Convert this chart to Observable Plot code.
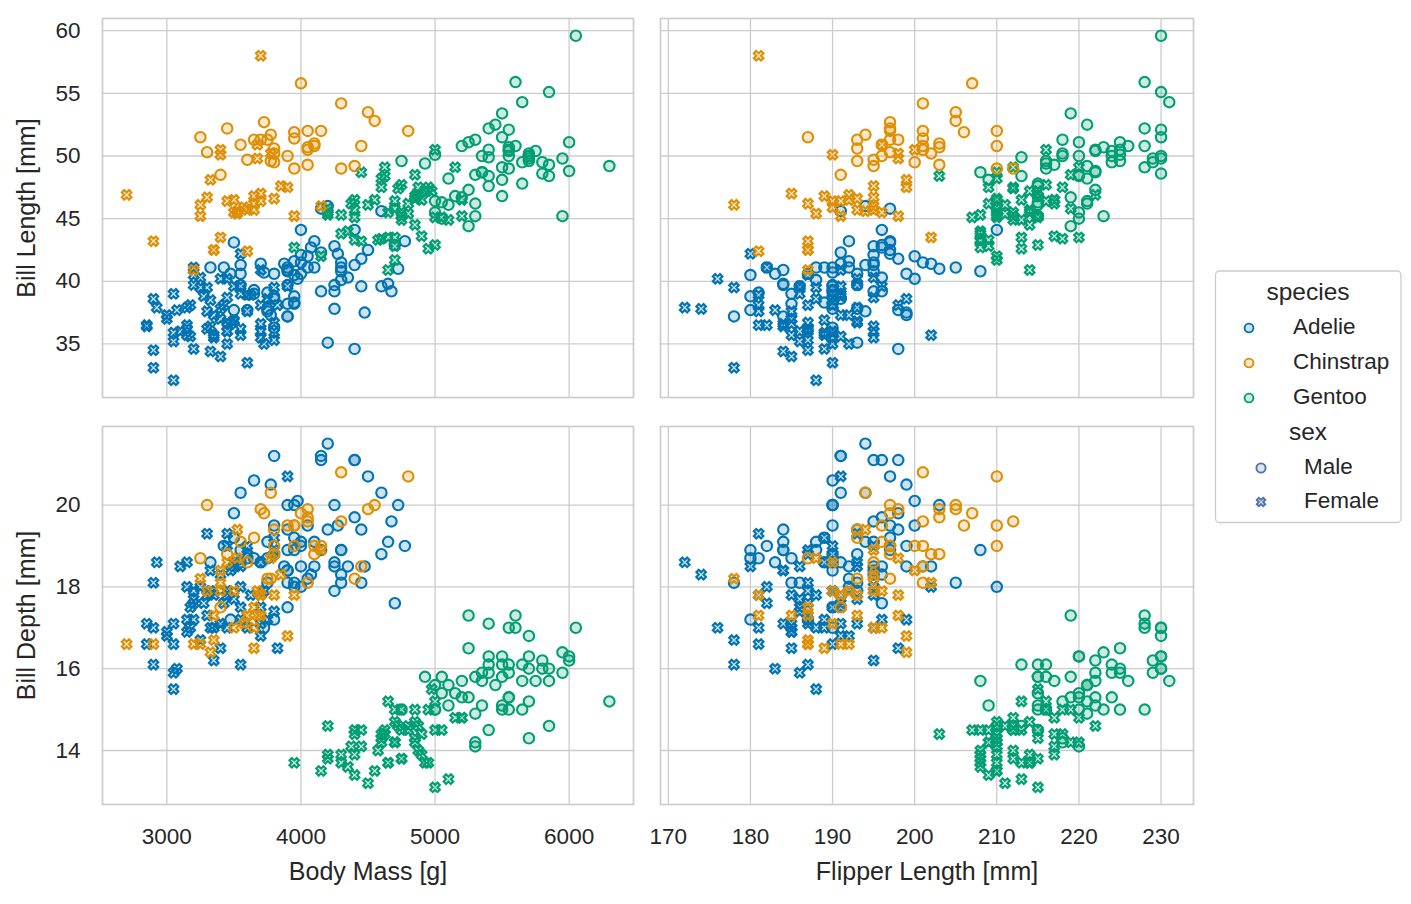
<!DOCTYPE html>
<html><head><meta charset="utf-8">
<script src="https://cdn.jsdelivr.net/npm/d3@7"></script>
<script src="https://cdn.jsdelivr.net/npm/@observablehq/plot@0.6"></script>
<style>
html,body{margin:0;padding:0;background:#fff;}
#root{position:relative;width:1411px;height:904px;font-family:"Liberation Sans",Arial,sans-serif;color:#262626;}
#root svg{position:absolute;overflow:visible;}
</style></head><body><div id="root"></div>
<script>
const speciesNames = ["Adelie", "Chinstrap", "Gentoo"];
const speciesColors = ["#0173b2", "#de8f05", "#029e73"];
const sexNames = ["Male", "Female"];
const sexLegendColor = "#4c72b0";
const massTicks = [3000, 4000, 5000, 6000];
const flipperTicks = [170, 180, 190, 200, 210, 220, 230];
const billLengthTicks = [35, 40, 45, 50, 55, 60];
const billDepthTicks = [14, 16, 18, 20];
const axisLabels = {mass: "Body Mass [g]", flipper: "Flipper Length [mm]", billLength: "Bill Length [mm]", billDepth: "Bill Depth [mm]"};

// rows: [bill length mm, bill depth mm, flipper length mm, body mass g, sex]
const adelieRows = [
[39.1,18.7,181,3750,"M"],[39.5,17.4,186,3800,"F"],[40.3,18.0,195,3250,"F"],[36.7,19.3,193,3450,"F"],[39.3,20.6,190,3650,"M"],
[38.9,17.8,181,3625,"F"],[39.2,19.6,195,4675,"M"],[41.1,17.6,182,3200,"F"],[38.6,21.2,191,3800,"M"],[34.6,21.1,198,4400,"M"],
[36.6,17.8,185,3700,"F"],[38.7,19.0,195,3450,"F"],[42.5,20.7,197,4500,"M"],[34.4,18.4,184,3325,"F"],[46.0,21.5,194,4200,"M"],
[37.8,18.3,174,3400,"F"],[37.7,18.7,180,3600,"M"],[35.9,19.2,189,3800,"F"],[38.2,18.1,185,3950,"M"],[38.8,17.2,180,3800,"M"],
[35.3,18.9,187,3800,"F"],[40.6,18.6,183,3550,"M"],[40.5,17.9,187,3200,"F"],[37.9,18.6,172,3150,"F"],[40.5,18.9,180,3950,"M"],
[39.5,16.7,178,3250,"F"],[37.2,18.1,178,3900,"M"],[39.5,17.8,188,3300,"F"],[40.9,18.9,184,3900,"M"],[36.4,17.0,195,3325,"F"],
[39.2,21.1,196,4150,"M"],[38.8,20.0,190,3950,"M"],[42.2,18.5,180,3550,"F"],[37.6,19.3,181,3300,"F"],[39.8,19.1,184,4650,"M"],
[36.5,18.0,182,3150,"F"],[40.8,18.4,195,3900,"M"],[36.0,18.5,186,3100,"F"],[44.1,19.7,196,4400,"M"],[37.0,16.9,185,3000,"F"],
[39.6,18.8,190,4600,"M"],[41.1,19.0,182,3425,"M"],[36.0,17.9,190,3450,"F"],[42.3,21.2,191,4150,"M"],[39.6,17.7,186,3500,"F"],
[40.1,18.9,188,4300,"M"],[35.0,17.9,190,3450,"F"],[42.0,19.5,200,4050,"M"],[34.5,18.1,187,2900,"F"],[41.4,18.6,191,3700,"M"],
[39.0,17.5,186,3550,"F"],[40.6,18.8,193,3800,"M"],[36.5,16.6,181,2850,"F"],[37.6,19.1,194,3750,"M"],[35.7,16.9,185,3150,"F"],
[41.3,21.1,195,4400,"M"],[37.6,17.0,185,3600,"F"],[41.1,18.2,192,4050,"M"],[36.4,17.1,184,2850,"F"],[41.6,18.0,192,3950,"M"],
[35.5,16.2,195,3350,"F"],[41.1,19.1,188,4100,"M"],[35.9,16.6,190,3050,"F"],[41.8,19.4,198,4450,"M"],[33.5,19.0,190,3600,"F"],
[39.7,18.4,190,3900,"M"],[39.6,17.2,196,3550,"F"],[45.8,18.9,197,4150,"M"],[35.5,17.5,190,3700,"F"],[42.8,18.5,195,4250,"M"],
[40.9,16.8,191,3700,"F"],[37.2,19.4,184,3900,"M"],[36.2,16.1,187,3550,"F"],[42.1,19.1,195,4000,"M"],[34.6,17.2,189,3200,"F"],
[42.9,17.6,196,4700,"M"],[36.7,18.8,187,3800,"F"],[35.1,19.4,193,4200,"M"],[37.3,17.8,191,3350,"F"],[41.3,20.3,194,3550,"M"],
[36.3,19.5,190,3800,"M"],[36.9,18.6,189,3500,"F"],[38.3,19.2,189,3950,"M"],[38.9,18.8,190,3600,"F"],[35.7,18.0,202,3550,"F"],
[41.1,18.1,205,4300,"M"],[34.0,17.1,185,3400,"F"],[39.6,18.1,186,4450,"M"],[36.2,17.3,187,3300,"F"],[40.8,18.9,208,4300,"M"],
[38.1,18.6,190,3700,"F"],[40.3,18.5,196,4350,"M"],[33.1,16.1,178,2900,"F"],[43.2,18.5,192,4100,"M"],[35.0,17.9,192,3725,"F"],
[41.0,20.0,203,4725,"M"],[37.7,16.0,183,3075,"F"],[37.8,20.0,190,4250,"M"],[37.9,18.6,193,2925,"F"],[39.7,18.9,184,3550,"M"],
[38.6,17.2,199,3750,"F"],[38.2,20.0,190,3900,"M"],[38.1,17.0,181,3175,"F"],[43.2,19.0,197,4775,"M"],[38.1,16.5,198,3825,"F"],
[45.6,20.3,191,4600,"M"],[39.7,17.7,193,3200,"F"],[42.2,19.5,197,4275,"M"],[39.6,20.7,191,3900,"F"],[42.7,18.3,196,4075,"M"],
[38.6,17.0,188,2900,"F"],[37.3,20.5,199,3775,"M"],[35.7,17.0,189,3350,"F"],[41.1,18.6,189,3325,"M"],[36.2,17.2,187,3150,"F"],
[37.7,19.8,198,3500,"M"],[40.2,17.0,176,3450,"F"],[41.4,18.5,202,3875,"M"],[35.2,15.9,186,3050,"F"],[40.6,19.0,199,4000,"M"],
[38.8,17.6,191,3275,"F"],[41.5,18.3,195,4300,"M"],[39.0,17.1,191,3050,"F"],[44.1,18.0,210,4000,"M"],[38.5,17.9,190,3325,"F"],
[43.1,19.2,197,3500,"M"],[36.8,18.5,193,3500,"F"],[37.5,18.5,199,4475,"M"],[38.1,17.6,187,3425,"F"],[41.1,17.5,190,3900,"M"],
[35.6,17.5,191,3175,"F"],[40.2,20.1,200,3975,"M"],[37.0,16.5,185,3400,"F"],[39.7,17.9,193,4250,"M"],[40.2,17.1,193,3400,"F"],
[40.6,17.2,187,3475,"M"],[32.1,15.5,188,3050,"F"],[40.7,17.0,190,3725,"M"],[37.3,16.8,192,3000,"F"],[39.0,18.7,185,3650,"M"],
[39.2,18.6,190,4250,"M"],[36.6,18.4,184,3475,"F"],[36.0,17.8,195,3450,"F"],[37.8,18.1,193,3750,"M"],[36.0,17.1,187,3700,"F"],
[41.5,18.5,201,4000,"M"]
];
const gentooRows = [
[46.1,13.2,211,4500,"F"],[50.0,16.3,230,5700,"M"],[48.7,14.1,210,4450,"F"],[50.0,15.2,218,5700,"M"],[47.6,14.5,215,5400,"M"],
[46.5,13.5,210,4550,"F"],[45.4,14.6,211,4800,"F"],[46.7,15.3,219,5200,"M"],[43.3,13.4,209,4400,"F"],[46.8,15.4,215,5150,"M"],
[40.9,13.7,214,4650,"F"],[49.0,16.1,216,5550,"M"],[45.5,13.7,214,4650,"F"],[48.4,14.6,213,5850,"M"],[45.8,14.6,210,4200,"F"],
[49.3,15.7,217,5850,"M"],[42.0,13.5,210,4150,"F"],[49.2,15.2,221,6300,"M"],[46.2,14.5,209,4800,"F"],[48.7,15.1,222,5350,"M"],
[50.2,14.3,218,5700,"M"],[45.1,14.5,215,5000,"F"],[46.5,14.5,213,4400,"F"],[46.3,15.8,215,5050,"M"],[42.9,13.1,215,5000,"F"],
[46.1,15.1,215,5100,"M"],[47.8,15.0,215,5650,"M"],[48.2,14.3,210,4600,"F"],[50.0,15.3,220,5550,"M"],[47.3,15.3,222,5250,"M"],
[42.8,14.2,209,4700,"F"],[45.1,14.5,207,5050,"F"],[59.6,17.0,230,6050,"M"],[49.1,14.8,220,5150,"F"],[48.4,16.3,220,5400,"M"],
[42.6,13.7,213,4950,"F"],[44.4,17.3,219,5250,"M"],[44.0,13.6,208,4350,"F"],[48.7,15.7,208,5350,"M"],[42.7,13.7,208,3950,"F"],
[49.6,16.0,225,5700,"M"],[45.3,13.7,210,4300,"F"],[49.6,15.0,216,4750,"M"],[50.5,15.9,222,5550,"M"],[43.6,13.9,217,4900,"F"],
[45.5,13.9,210,4200,"F"],[50.5,15.9,225,5400,"M"],[44.9,13.3,213,5100,"F"],[45.2,15.8,215,5300,"M"],[46.6,14.2,210,4850,"F"],
[48.5,14.1,220,5300,"M"],[45.1,14.4,210,4400,"F"],[50.1,15.0,225,5000,"M"],[46.5,14.4,217,4900,"F"],[45.0,15.4,220,5050,"M"],
[43.8,13.9,208,4300,"F"],[45.5,15.0,220,5000,"M"],[43.2,14.5,208,4450,"F"],[50.4,15.3,224,5550,"M"],[45.3,13.8,208,4200,"F"],
[46.2,14.9,221,5300,"M"],[45.7,13.9,214,4400,"F"],[54.3,15.7,231,5650,"M"],[45.8,14.2,219,4700,"F"],[49.8,16.8,230,5700,"M"],
[49.5,16.2,229,5800,"M"],[43.5,14.2,220,4700,"F"],[50.7,15.0,223,5550,"M"],[47.7,15.0,216,4750,"F"],[46.4,15.6,221,5000,"M"],
[48.2,15.6,221,5100,"M"],[46.5,14.8,217,5200,"F"],[46.4,15.0,216,4700,"F"],[48.6,16.0,230,5800,"M"],[47.5,14.2,209,4600,"F"],
[51.1,16.3,220,6000,"M"],[45.2,13.8,215,4750,"F"],[45.2,16.4,223,5950,"M"],[49.1,14.5,212,4625,"F"],[52.5,15.6,221,5450,"M"],
[47.4,14.6,212,4725,"F"],[50.0,15.9,224,5350,"M"],[44.9,13.8,212,4750,"F"],[50.8,17.3,228,5600,"M"],[43.4,14.4,218,4600,"F"],
[51.3,14.2,218,5300,"M"],[47.5,14.0,212,4875,"F"],[52.1,17.0,230,5550,"M"],[47.5,15.0,218,4950,"F"],[52.2,17.1,228,5400,"M"],
[45.5,14.5,212,4750,"F"],[49.5,16.1,224,5650,"M"],[44.5,14.7,214,4850,"F"],[50.8,15.7,226,5200,"M"],[49.4,15.8,216,4925,"M"],
[46.9,14.6,222,4875,"F"],[48.4,14.4,203,4625,"F"],[51.1,16.5,225,5250,"M"],[48.5,15.0,219,4850,"F"],[55.9,17.0,228,5600,"M"],
[47.2,15.5,215,4975,"F"],[49.1,15.0,228,5500,"M"],[46.8,16.1,215,5500,"M"],[41.7,14.7,210,4700,"F"],[53.4,15.8,219,5500,"M"],
[43.3,14.0,208,4575,"F"],[48.1,15.1,209,5500,"M"],[50.5,15.2,216,5000,"F"],[49.8,15.9,229,5950,"M"],[43.5,15.2,213,4650,"F"],
[51.5,16.3,230,5500,"M"],[46.2,14.1,217,4375,"F"],[55.1,16.0,230,5850,"M"],[48.8,16.2,222,6000,"M"],[47.2,13.7,214,4925,"F"],
[46.8,14.3,215,4850,"F"],[50.4,15.7,222,5750,"M"],[45.2,14.8,212,5200,"F"],[49.9,16.1,213,5400,"M"]
];
const chinstrapRows = [
[46.5,17.9,192,3500,"F"],[50.0,19.5,196,3900,"M"],[51.3,19.2,193,3650,"M"],[45.4,18.7,188,3525,"F"],[52.7,19.8,197,3725,"M"],
[45.2,17.8,198,3950,"F"],[46.1,18.2,178,3250,"F"],[51.3,18.2,197,3750,"M"],[46.0,18.9,195,4150,"F"],[51.3,19.9,198,3700,"M"],
[46.6,17.8,193,3800,"F"],[51.7,20.3,194,3775,"M"],[47.0,17.3,185,3700,"F"],[52.0,18.1,201,4050,"M"],[45.9,17.1,190,3575,"F"],
[50.5,19.6,201,4050,"M"],[50.3,20.0,197,3300,"M"],[58.0,17.8,181,3700,"F"],[46.4,18.6,190,3450,"F"],[49.2,18.2,195,4400,"M"],
[42.4,17.3,181,3600,"F"],[48.5,17.5,191,3400,"M"],[43.2,16.6,187,2900,"F"],[50.6,19.4,193,3800,"M"],[46.7,17.9,195,3300,"F"],
[52.0,19.0,197,4150,"M"],[50.5,18.4,200,3400,"F"],[49.5,19.0,200,3800,"M"],[46.4,17.8,191,3700,"F"],[52.8,20.0,205,4550,"M"],
[40.9,16.6,187,3200,"F"],[54.2,20.8,201,4300,"M"],[42.5,16.7,187,3350,"F"],[51.0,18.8,203,4100,"M"],[49.7,18.6,195,3600,"M"],
[47.5,16.8,199,3900,"F"],[47.6,18.3,195,3850,"F"],[52.0,20.7,210,4800,"M"],[46.9,16.6,192,2700,"F"],[53.5,19.9,205,4500,"M"],
[49.0,19.5,210,3950,"M"],[46.2,17.5,187,3650,"F"],[50.9,19.1,196,3550,"M"],[45.5,17.0,196,3500,"F"],[50.9,17.9,196,3675,"F"],
[50.8,18.5,201,4450,"M"],[50.1,17.9,190,3400,"F"],[49.0,19.6,212,4300,"M"],[51.5,18.7,187,3250,"M"],[49.8,17.3,198,3675,"F"],
[48.1,16.4,199,3325,"F"],[51.4,19.0,201,3950,"M"],[45.7,17.3,193,3600,"F"],[50.7,19.7,203,4050,"M"],[42.5,17.3,187,3350,"F"],
[52.2,18.8,197,3450,"M"],[45.2,16.6,191,3250,"F"],[49.3,19.9,203,4050,"M"],[50.2,18.8,202,3800,"M"],[45.6,19.4,194,3525,"F"],
[51.9,19.5,206,3950,"M"],[46.8,16.5,189,3650,"F"],[45.7,17.0,195,3650,"F"],[55.8,19.8,207,4000,"M"],[43.5,18.1,202,3400,"F"],
[49.6,18.2,193,3775,"M"],[50.8,19.0,210,4100,"M"],[50.2,18.7,198,3775,"F"]
];

const toRecord = sp => r => ({species: sp, billLength: r[0], billDepth: r[1], flipper: r[2], mass: r[3], sex: r[4] === "M" ? "Male" : "Female"});
const data = [
  ...adelieRows.map(toRecord("Adelie")),
  ...gentooRows.map(toRecord("Gentoo")),
  ...chinstrapRows.map(toRecord("Chinstrap"))
];

function padded(key) {
  const [a, b] = d3.extent(data, d => d[key]);
  const p = (b - a) * 0.05;
  return [a - p, b + p];
}

// matplotlib-like filled "X" marker (a plus rotated 45°)
const xSymbol = {
  draw(ctx, size) {
    const r = Math.sqrt(size / Math.PI);
    const L = r * 0.98, w = L / 3, c = Math.SQRT1_2;
    const pts = [[-w,-L],[w,-L],[w,-w],[L,-w],[L,w],[w,w],[w,L],[-w,L],[-w,w],[-L,w],[-L,-w],[-w,-w]];
    pts.forEach(([x, y], i) => {
      const X = (x - y) * c, Y = (x + y) * c;
      if (i) ctx.lineTo(X, Y); else ctx.moveTo(X, Y);
    });
    ctx.closePath();
  }
};

const TICK_FS = 22.5, LABEL_FS = 25;
const root = document.getElementById("root");

function panel({left, top, width, height, margin, xKey, yKey, xTicks, yTicks, showX, showY}) {
  const marks = [
    Plot.gridX(xTicks, {stroke: "#cccccc", strokeOpacity: 1, strokeWidth: 1.3}),
    Plot.gridY(yTicks, {stroke: "#cccccc", strokeOpacity: 1, strokeWidth: 1.3}),
    Plot.dot(data, {x: xKey, y: yKey, stroke: "species", fill: "species", fillOpacity: 0.2, strokeWidth: 2.1, r: 5.2, symbol: "sex"}),
    Plot.frame({stroke: "#cccccc", strokeWidth: 1.7})
  ];
  if (showX) marks.push(Plot.axisX(xTicks, {tickSize: 0, tickPadding: 24, tickFormat: d => String(d), label: axisLabels[xKey], labelAnchor: "center", labelArrow: "none", labelOffset: 75}));
  if (showY) marks.push(Plot.axisY(yTicks, {tickSize: 0, tickPadding: 22, tickFormat: d => String(d), label: axisLabels[yKey], labelAnchor: "center", labelArrow: "none", labelOffset: 85}));
  const svg = Plot.plot({
    width, height,
    marginLeft: margin[3], marginRight: margin[1], marginTop: margin[0], marginBottom: margin[2],
    x: {domain: padded(xKey), axis: null},
    y: {domain: padded(yKey), axis: null},
    color: {domain: speciesNames, range: speciesColors},
    symbol: {domain: sexNames, range: [d3.symbolCircle, xSymbol]},
    style: {fontFamily: '"Liberation Sans", Arial, sans-serif', fontSize: TICK_FS + "px", color: "#262626", background: "transparent", overflow: "visible"},
    marks
  });
  d3.select(svg).selectAll('[aria-label="x-axis label"], [aria-label="y-axis label"]').attr("font-size", LABEL_FS);
  d3.select(svg).selectAll('[aria-label="x-axis tick label"], [aria-label="y-axis tick label"]').attr("font-size", TICK_FS);
  svg.style.left = left + "px";
  svg.style.top = top + "px";
  root.appendChild(svg);
}

panel({left: 0, top: 0, width: 640, height: 410, margin: [18, 7, 13, 102], xKey: "mass", yKey: "billLength", xTicks: massTicks, yTicks: billLengthTicks, showX: false, showY: true});
panel({left: 640, top: 0, width: 560, height: 410, margin: [18, 7, 13, 20], xKey: "flipper", yKey: "billLength", xTicks: flipperTicks, yTicks: billLengthTicks, showX: false, showY: false});
panel({left: 0, top: 410, width: 640, height: 494, margin: [16, 7, 100, 102], xKey: "mass", yKey: "billDepth", xTicks: massTicks, yTicks: billDepthTicks, showX: true, showY: true});
panel({left: 640, top: 410, width: 560, height: 494, margin: [16, 7, 100, 20], xKey: "flipper", yKey: "billDepth", xTicks: flipperTicks, yTicks: billDepthTicks, showX: true, showY: false});

// Legend
const ox = 1213, oy = 268;
const leg = d3.create("svg").attr("width", 192).attr("height", 258)
  .style("left", ox + "px").style("top", oy + "px")
  .attr("font-family", '"Liberation Sans", Arial, sans-serif').attr("fill", "#262626");
leg.append("rect").attr("x", 2.5).attr("y", 3).attr("width", 185.5).attr("height", 251.5).attr("rx", 4)
  .attr("fill", "white").attr("stroke", "#cccccc").attr("stroke-width", 1.3);
leg.append("text").attr("x", 95).attr("y", 32).attr("text-anchor", "middle").attr("font-size", 24.5).text("species");
speciesNames.forEach((s, i) => {
  const cy = 60 + i * 35;
  leg.append("circle").attr("cx", 36).attr("cy", cy).attr("r", 4.4)
    .attr("fill", speciesColors[i]).attr("fill-opacity", 0.2)
    .attr("stroke", speciesColors[i]).attr("stroke-width", 1.9);
  leg.append("text").attr("x", 80).attr("y", cy + 5.5).attr("font-size", TICK_FS).text(s);
});
leg.append("text").attr("x", 95).attr("y", 172).attr("text-anchor", "middle").attr("font-size", 24.5).text("sex");
const legSymbols = [d3.symbolCircle, xSymbol];
sexNames.forEach((s, i) => {
  const cy = 200 + i * 34;
  leg.append("path").attr("transform", `translate(48,${cy})`)
    .attr("d", d3.symbol(legSymbols[i], Math.PI * 4.6 * 4.6)())
    .attr("fill", sexLegendColor).attr("fill-opacity", 0.2)
    .attr("stroke", sexLegendColor).attr("stroke-width", 1.9);
  leg.append("text").attr("x", 91).attr("y", cy + 5.5).attr("font-size", TICK_FS).text(s);
});
root.appendChild(leg.node());
</script></body></html>
